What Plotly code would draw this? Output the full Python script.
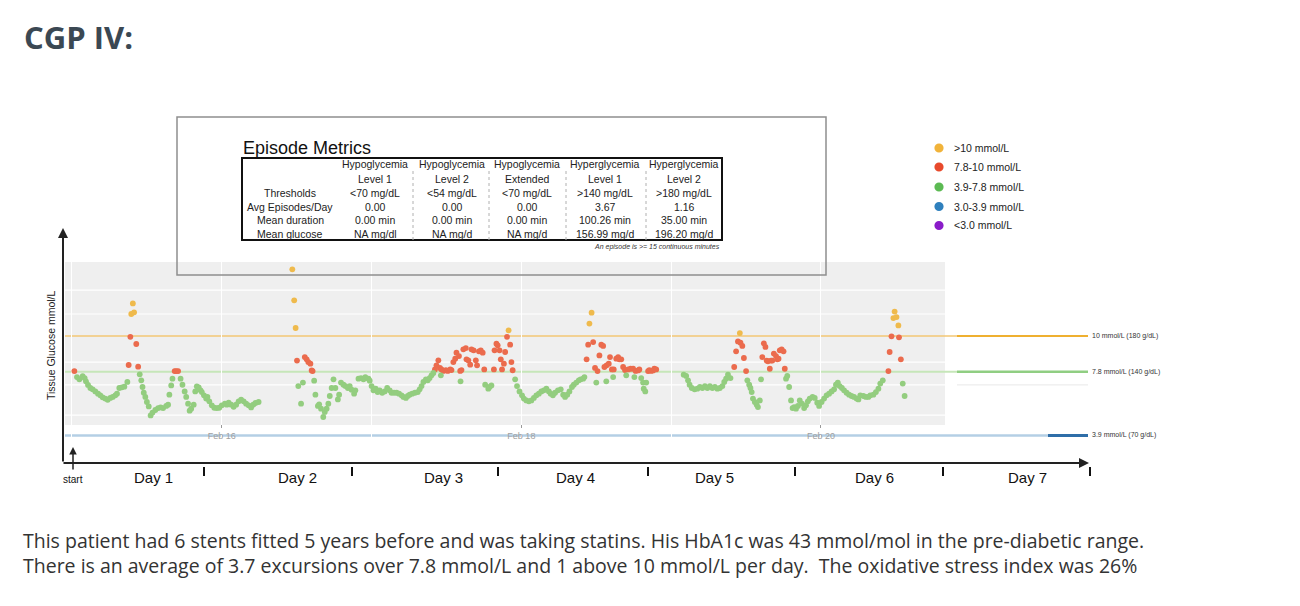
import pandas as pd
import plotly.graph_objects as go

# page places the figure at an 8px body margin; figure is sized to fill the rest
OFF = 8
FW, FH = 1292, 598

# ---------------- data ----------------
title_text = "CGP IV:"
caption_lines = [
    "This patient had 6 stents fitted 5 years before and was taking statins. His HbA1c was 43 mmol/mol in the pre-diabetic range.",
    "There is an average of 3.7 excursions over 7.8 mmol/L and 1 above 10 mmol/L per day.  The oxidative stress index was 26%",
]
y_title = "Tissue Glucose mmol/L"
start_time = "2024-02-15 00:00"

hours = [
    0.38, 0.8, 1.18, 1.71, 2.03, 2.24, 2.57, 2.94, 3.31, 3.74, 4.17, 4.54, 4.91, 5.34, 5.72, 6.14, 6.52, 6.94,
    7.21, 7.58, 8.0, 8.39, 8.87, 9.08, 9.35, 9.5, 9.75, 9.95, 10.3, 10.6, 10.85, 11.1, 11.3, 11.5, 11.75, 12.0,
    12.3, 12.6, 12.9, 13.35, 13.8, 14.2, 14.6, 15.1, 15.4, 15.6, 15.9, 16.1, 16.45, 16.7, 17.0, 17.4, 17.7,
    18.05, 18.3, 18.6, 18.85, 19.1, 19.5, 19.75, 20.0, 20.3, 20.6, 20.8, 21.15, 21.5, 21.7, 22.0, 22.4, 22.8,
    23.2, 23.6, 24.0, 24.5, 24.8, 25.1, 25.5, 25.9, 26.3, 26.7, 27.1, 27.5, 27.9, 28.3, 28.7, 29.05, 29.4, 29.9,
    35.3, 35.6, 35.83, 36.05, 36.26, 36.7, 37.0, 37.3, 37.6, 37.86, 38.2, 38.4, 38.55, 38.8, 39.0, 39.4, 39.6,
    39.9, 40.26, 40.5, 40.8, 41.07, 41.3, 41.6, 41.9, 42.2, 42.6, 42.8, 43.1, 43.5, 43.8, 44.2, 44.5, 44.8,
    45.2, 45.4, 45.9, 46.3, 46.7, 47.0, 47.5, 47.7, 48.0, 48.3, 48.65, 48.97, 49.3, 49.7, 50.1, 50.5, 50.9,
    51.2, 51.6, 52.0, 52.4, 52.8, 53.1, 53.5, 53.8, 54.1, 54.5, 54.95, 55.4, 55.7, 56.0, 56.3, 56.7, 57.0,
    57.3, 57.6, 57.9, 58.15, 58.4, 58.7, 58.95, 59.1, 59.2, 59.5, 59.9, 60.2, 60.6, 60.8, 61.1, 61.4, 61.6,
    62.0, 62.2, 62.25, 62.4, 62.7, 63.1, 63.2, 63.5, 63.8, 64.0, 64.35, 64.7, 64.9, 65.2, 65.5, 65.8, 66.05,
    66.2, 66.7, 66.9, 67.2,
    67.6, 67.7, 68.0, 68.2, 68.5, 68.7, 68.9, 69.2, 69.4, 69.7, 69.95, 70.2, 70.4, 70.6, 71.0, 71.3, 71.7,
    72.1, 72.4, 72.8, 73.2, 73.6, 74.0, 74.4, 74.8, 75.2, 75.6, 76.0, 76.4, 76.7, 77.05, 77.4, 77.85, 78.3,
    78.7, 79.0, 79.35, 79.7, 80.1, 80.4, 80.8, 81.2, 81.5, 81.9, 82.1, 82.45, 82.7, 82.9, 83.25, 83.5, 83.8,
    84.0, 84.2, 84.5, 84.8, 85.1, 85.3, 85.6, 85.65, 86.0, 86.2, 86.5, 86.7, 86.8, 87.2, 87.5, 87.7, 88.0,
    88.3, 88.6, 88.8, 89.1, 89.5, 89.9, 90.1, 90.3, 90.7, 90.9, 91.2, 91.5, 91.6, 91.85, 92.0, 92.3, 92.5,
    92.8, 93.1, 93.3, 93.6,
    98.0, 98.4, 98.7, 98.95, 99.3, 99.75, 100.2, 100.6, 101.0, 101.4, 101.8, 102.2, 102.6, 103.0, 103.4,
    103.8, 104.2, 104.5, 104.8, 105.1, 105.5, 106.1, 106.4, 106.7, 107.0, 107.1, 107.4, 107.65, 108.0, 108.2,
    108.5, 108.7, 108.9, 109.1, 109.4, 109.7, 109.9, 110.2, 110.4, 110.6, 110.85, 111.1, 111.3, 111.5, 111.8,
    112.0, 112.2, 112.45, 112.8, 113.0, 113.2, 113.4, 113.7, 114.0, 114.2, 114.4, 114.6, 114.9, 115.2, 115.45,
    115.7, 116.0, 116.3, 116.6, 116.95, 117.3, 117.6, 117.9, 118.2, 118.65, 119.0, 119.4, 119.7, 120.1, 120.5,
    120.9, 121.3, 121.7, 122.1, 122.4, 122.7, 123.0, 123.35, 123.7, 124.1, 124.5, 124.9, 125.3, 125.7, 126.0,
    126.3, 126.8, 127.2, 127.6, 127.9, 128.4, 128.8, 129.2, 129.5, 129.9, 130.8, 131.0, 131.3, 131.6, 131.8,
    132.1, 132.4, 132.5, 132.8, 133.1, 133.4,
]
glucose = [
    7.85, 7.48, 7.34, 7.53, 7.42, 7.22, 7.0, 6.81, 6.73, 6.6, 6.46, 6.36, 6.24, 6.16, 6.09, 6.2, 6.26, 6.36,
    6.46, 6.81, 6.85, 6.89, 7.18, 8.22, 9.95, 11.35, 12.0, 11.45, 9.51, 8.12, 7.65, 7.28, 6.87, 6.52, 6.26, 5.95,
    5.68, 5.13, 5.3, 5.46, 5.58, 5.62, 5.58, 5.71, 5.79, 6.4, 6.97, 7.38, 7.85, 7.85, 7.85, 7.38, 7.01,
    6.6, 6.26, 5.85, 5.42, 5.54, 5.79, 6.6, 6.91, 6.85, 6.67, 6.56, 6.36, 6.16, 6.26, 5.99, 5.75, 5.6,
    5.58, 5.6, 5.75, 5.85, 5.79, 5.91, 5.79, 5.66, 5.79, 5.99, 6.09, 5.99, 5.85, 5.75, 5.62, 5.79, 5.89, 5.95,
    14.09, 12.19, 10.49, 8.49, 6.93, 5.85, 7.14, 8.71, 8.57, 8.40, 8.30, 7.89, 7.85, 7.26, 6.40, 5.71, 5.81,
    5.54, 5.03, 5.34, 5.54, 5.85, 6.32, 6.81, 7.34, 6.81, 6.11, 6.40, 7.14, 7.01, 6.93, 6.81, 6.93, 6.71,
    6.46, 6.67, 7.38, 7.42, 7.34, 7.48, 7.38, 7.26, 6.93, 6.67, 6.77, 6.56, 6.67, 6.52, 6.6, 6.81, 6.67,
    6.52, 6.52, 6.52, 6.46, 6.36, 6.26, 6.20, 6.32, 6.40, 6.46, 6.52, 6.56, 6.73, 6.93, 7.18, 7.34, 7.28,
    7.42, 7.59, 7.73, 7.95, 8.20, 8.51, 8.04, 7.59, 7.95, 7.86, 7.91, 7.86, 7.95, 7.91, 8.40, 8.61, 8.98,
    8.77, 7.86, 7.22, 7.91, 9.18, 9.26, 8.57, 8.51, 8.24, 9.18, 9.12, 8.51, 8.20, 9.06, 9.12, 8.98, 7.95,
    7.01, 6.77, 6.87, 6.97,
    7.95, 9.12, 9.53, 9.43, 9.12, 8.57, 7.95, 8.30, 9.02, 9.95, 10.35, 9.47, 8.40, 7.9, 7.34, 6.93, 6.60,
    6.36, 6.16, 6.05, 5.99, 6.05, 6.20, 6.36, 6.46, 6.60, 6.67, 6.77, 6.60, 6.46, 6.36, 6.52, 6.67, 6.73,
    6.40, 6.26, 6.40, 6.60, 6.87, 7.01, 7.14, 7.28, 7.34, 7.38, 7.48, 8.57, 9.47, 10.76, 11.43, 9.63, 8.04,
    7.14, 7.85, 8.81, 9.47, 9.39, 8.10, 7.22, 8.20, 8.30, 8.71, 7.95, 7.48, 7.95, 8.61, 8.71, 8.57, 8.57,
    8.10, 7.91, 7.59, 7.95, 7.99, 7.99, 7.48, 7.86, 7.89, 7.95, 7.42, 7.14, 6.77, 6.60, 7.14, 7.85, 7.91,
    7.86, 7.89, 7.99, 7.95,
    7.63, 7.55, 7.28, 7.01, 6.81, 6.73, 6.77, 6.87, 6.81, 6.93, 6.81, 6.93, 6.81, 6.87, 6.77,
    6.81, 6.93, 7.18, 7.38, 7.63, 7.42, 8.10, 9.06, 9.67, 10.18, 9.59, 9.39, 8.65, 7.85, 7.28,
    7.01, 6.81, 6.56, 6.16, 5.95, 5.79, 5.64, 6.05, 7.34, 8.71, 9.55, 9.33, 8.49, 8.45, 7.99,
    8.49, 8.49, 8.92, 8.77, 8.57, 8.61, 9.12, 9.18, 9.06, 7.99, 7.38, 7.55, 6.87, 6.05, 5.58,
    5.64, 5.54, 5.71, 6.05, 5.85, 5.58, 5.75, 5.99, 6.16, 6.26, 6.20, 5.91, 5.71, 5.95, 6.16,
    6.36, 6.46, 6.60, 6.73, 7.01, 7.14, 6.93, 6.81, 6.67, 6.52, 6.40, 6.32, 6.26, 6.16, 6.11,
    6.36, 6.32, 6.26, 6.26, 6.36, 6.40, 6.56, 6.77, 7.08, 7.28, 7.85, 9.02, 9.98, 11.1, 11.5,
    11.16, 10.65, 9.92, 8.57, 7.08, 6.32,
]

band_names = [">10 mmol/L", "7.8-10 mmol/L", "3.9-7.8 mmol/L", "3.0-3.9 mmol/L", "<3.0 mmol/L"]
band_low = [10.0, 7.8, 3.9, 3.0, 0.0]
band_high = [99.0, 10.0, 7.8, 3.9, 3.0]
dot_colors = ["#efba4c", "#eb6b4d", "#93cd7f", "#6aa5d4", "#9b4fd0"]
legend_colors = ["#f1b33a", "#e84a2c", "#5cba53", "#2f80bd", "#8a1cc9"]

threshold_values = [10.0, 7.8, 3.9]
threshold_labels = ["10 mmol/L (180 g/dL)", "7.8 mmol/L (140 g/dL)", "3.9 mmol/L (70 g/dL)"]
panel_grid_values = [12.82, 11.35, 8.40, 7.0, 5.15]

day_labels = ["Day 1", "Day 2", "Day 3", "Day 4", "Day 5", "Day 6", "Day 7"]

table_title = "Episode Metrics"
table_header1 = ["Hypoglycemia", "Hypoglycemia", "Hypoglycemia", "Hyperglycemia", "Hyperglycemia"]
table_header2 = ["Level 1", "Level 2", "Extended", "Level 1", "Level 2"]
table_row_names = ["Thresholds", "Avg Episodes/Day", "Mean duration", "Mean glucose"]
table_rows = [
    ["&lt;70 mg/dL", "&lt;54 mg/dL", "&lt;70 mg/dL", "&gt;140 mg/dL", "&gt;180 mg/dL"],
    ["0.00", "0.00", "0.00", "3.67", "1.16"],
    ["0.00 min", "0.00 min", "0.00 min", "100.26 min", "35.00 min"],
    ["NA mg/dl", "NA mg/d", "NA mg/d", "156.99 mg/d", "196.20 mg/d"],
]
table_note = "An episode is &gt;= 15 continuous minutes"

# ---------------- helpers ----------------
def px(x):
    return (x - OFF) / FW


def py(y):
    return 1 - (y - OFF) / FH


t0 = pd.Timestamp(start_time)
times = t0 + pd.to_timedelta(hours, unit="h")
xr0 = (t0 + pd.Timedelta(hours=-1.12)).strftime("%Y-%m-%d %H:%M:%S")
xr1 = (t0 + pd.Timedelta(hours=139.87)).strftime("%Y-%m-%d %H:%M:%S")

fig = go.Figure()
for name, lo, hi, col in zip(band_names, band_low, band_high, dot_colors):
    xs = [t for t, g in zip(times, glucose) if lo < g <= hi]
    ys = [g for g in glucose if lo < g <= hi]
    fig.add_trace(go.Scatter(x=xs, y=ys, mode="markers", name=name, showlegend=False,
                             marker=dict(color=col, size=5.8, line=dict(width=0)),
                             hoverinfo="x+y"))

shapes = []
shapes.append(dict(type="rect", xref="x domain", yref="y", x0=0, x1=1, y0=4.54, y1=14.54,
                   fillcolor="#efefef", line=dict(width=0), layer="below"))
for gv in panel_grid_values:
    shapes.append(dict(type="line", xref="x domain", yref="y", x0=0, x1=1, y0=gv, y1=gv,
                       line=dict(color="white", width=1.2), layer="below"))


def hl(x0, x1, yv, color, width, layer="between"):
    return dict(type="line", xref="paper", yref="y", x0=px(x0), x1=px(x1), y0=yv, y1=yv,
                line=dict(color=color, width=width), layer=layer)


shapes.append(hl(65, 957, threshold_values[0], "#f3c774", 1.3))
shapes.append(hl(957, 1088, threshold_values[0], "#efb030", 2))
shapes.append(hl(65, 957, threshold_values[1], "#c6e6b9", 2))
shapes.append(hl(957, 1088, threshold_values[1], "#90ce82", 2.5))
shapes.append(hl(957, 1088, 7.0, "#e8e8e8", 1))
shapes.append(hl(65, 1048, threshold_values[2], "#b4cfe5", 2.6))
shapes.append(hl(1048, 1088, threshold_values[2], "#2f6ea8", 3))

# table box
shapes.append(dict(type="rect", xref="paper", yref="paper", x0=px(177), x1=px(826), y0=py(275), y1=py(117),
                   line=dict(color="#8f8f8f", width=1.5), fillcolor="rgba(0,0,0,0)", layer="above"))
shapes.append(dict(type="rect", xref="paper", yref="paper", x0=px(242), x1=px(722), y0=py(240), y1=py(158),
                   line=dict(color="#111", width=2), fillcolor="rgba(0,0,0,0)", layer="above"))
for sx in [413, 489, 566, 646]:
    shapes.append(dict(type="line", xref="paper", yref="paper", x0=px(sx), x1=px(sx), y0=py(240), y1=py(171),
                       line=dict(color="#b0b0b0", width=1, dash="dot"), layer="above"))

legend_py = [148, 167, 187, 206.5, 225.5]
for c, ly in zip(legend_colors, legend_py):
    shapes.append(dict(type="circle", xref="paper", yref="paper", x0=px(939 - 4.6), x1=px(939 + 4.6),
                       y0=py(ly + 4.6), y1=py(ly - 4.6), fillcolor=c, line=dict(width=0), layer="above"))

for tx in [204, 352, 498, 648, 795, 943, 1090]:
    shapes.append(dict(type="line", xref="paper", yref="paper", x0=px(tx), x1=px(tx), y0=py(476), y1=py(467),
                       line=dict(color="#111", width=2), layer="above"))

ann = []


def txt(text, x, y, size, color="#222", family="Liberation Sans", xa="center", ya="middle", **kw):
    return dict(text=text, x=px(x), y=py(y), xref="paper", yref="paper", xanchor=xa, yanchor=ya,
                showarrow=False, font=dict(family=family, size=size, color=color), **kw)


ann.append(txt("<b>" + title_text + "</b>", 22, 37, 31, "#3b4853", "Open Sans", xa="left"))
ann.append(txt("<br>".join(caption_lines), 21, 553, 19.5, "#333333", "Open Sans", xa="left", align="left"))
ann.append(txt(y_title, 51, 346, 10.5, "#222", textangle=-90))

ann.append(dict(text="", x=px(63), y=py(228), xref="paper", yref="paper", ax=0, ay=235,
                showarrow=True, arrowhead=2, arrowsize=1, arrowwidth=2, arrowcolor="#222"))
ann.append(dict(text="", x=px(1089), y=py(463), xref="paper", yref="paper", ax=-1027, ay=0,
                showarrow=True, arrowhead=2, arrowsize=1, arrowwidth=2, arrowcolor="#222"))
ann.append(dict(text="", x=px(73), y=py(447), xref="paper", yref="paper", ax=0, ay=24,
                showarrow=True, arrowhead=2, arrowsize=1, arrowwidth=1.5, arrowcolor="#222"))
ann.append(txt("start", 73, 479, 10, "#111"))
for lab, cx in zip(day_labels, [153, 297, 443, 575, 714, 874, 1027]):
    ann.append(txt(lab, cx, 477, 15, "#111"))
for lab, tv in zip(threshold_labels, threshold_values):
    ann.append(dict(text=lab, x=px(1090), y=tv, xref="paper", yref="y", xanchor="left", yanchor="middle",
                    showarrow=False, font=dict(family="Liberation Sans", size=7, color="#333")))
for lab, ly in zip(band_names, legend_py):
    ann.append(txt(lab.replace("<", "&lt;").replace(">", "&gt;"), 952, ly, 10.5, "#222", xa="left"))

tfam = "Liberation Sans Narrow, Liberation Sans"
ann.append(txt(table_title, 241, 148, 18, "#111", xa="left"))
col_x = [375, 452, 527, 605, 684]
for cx, h1, h2 in zip(col_x, table_header1, table_header2):
    ann.append(txt(h1, cx, 164, 10.5, "#222", tfam))
    ann.append(txt(h2, cx, 179, 10.5, "#222", tfam))
for ry, rname, vals in zip([193, 206.5, 220, 234], table_row_names, table_rows):
    ann.append(txt(rname, 290, ry, 10.5, "#222", tfam))
    for cx, v in zip(col_x, vals):
        ann.append(txt(v, cx, ry, 10.5, "#222", tfam))
ann.append(txt("<i>" + table_note + "</i>", 722, 247, 7, "#333", tfam, xa="right"))

fig.update_layout(
    width=FW, height=FH,
    margin=dict(l=0, r=0, t=0, b=0),
    paper_bgcolor="white", plot_bgcolor="white",
    showlegend=False,
    shapes=shapes, annotations=ann,
    xaxis=dict(domain=[px(65), px(945)], type="date", range=[xr0, xr1],
               anchor="free", position=py(424),
               tick0="2024-02-16", dtick=2 * 86400000, tickformat="%b %d",
               showgrid=True, gridcolor="white", gridwidth=1.3,
               minor=dict(dtick=86400000, showgrid=True, gridcolor="white", gridwidth=1),
               ticks="outside", ticklen=3, tickcolor="#999",
               tickfont=dict(family="Liberation Sans", size=9, color="#a0a0a0"),
               showline=False, zeroline=False, fixedrange=True),
    yaxis=dict(domain=[py(463), py(228)], range=[2.209, 16.626], visible=False,
               showgrid=False, zeroline=False, fixedrange=True),
)

fig.write_html("out.html")
